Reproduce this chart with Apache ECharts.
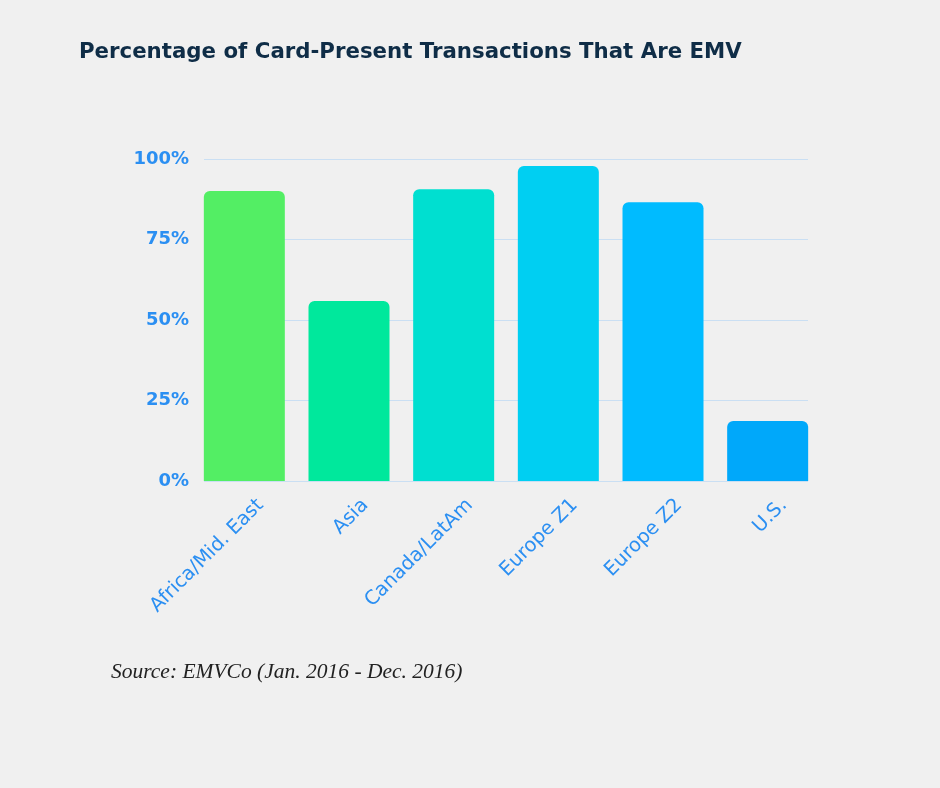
<!DOCTYPE html>
<html><head><meta charset="utf-8">
<script src="https://cdn.jsdelivr.net/npm/echarts@6/dist/echarts.min.js"></script>
<style>html,body{margin:0;padding:0;background:#f0f0f0}#c{width:940px;height:788px}</style>
</head><body><div id="c"></div>
<script>
const categories = ['Africa/Mid. East', 'Asia', 'Canada/LatAm', 'Europe Z1', 'Europe Z2', 'U.S.'];
const values = [90.1, 55.9, 90.6, 97.8, 86.6, 18.6];
const barColors = ['#53ee64', '#00e89c', '#00dfd0', '#00cff2', '#00bbff', '#00a8fa'];
const yTicks = [0, 25, 50, 75, 100];

const chart = echarts.init(document.getElementById('c'));
const labelBlue = '#2b8ff2';
chart.setOption({
  backgroundColor: '#f0f0f0',
  animation: false,
  title: {
    text: 'Percentage of Card-Present Transactions That Are EMV',
    left: 74, top: 37,
    textStyle: { color: '#0f2d47', fontSize: 21.3, fontWeight: 'bold', fontFamily: 'DejaVu Sans' }
  },
  grid: [
    { left: 204, right: 132, top: 159, bottom: 307 },
    { left: 192, right: 120, top: 159, bottom: 307 }
  ],
  xAxis: [
    { type: 'category', gridIndex: 0, data: categories, show: false },
    { type: 'category', gridIndex: 1, data: categories,
      axisLine: { show: false }, axisTick: { show: false },
      axisLabel: { rotate: 45, margin: 5, verticalAlign: 'top', lineHeight: 46, color: labelBlue, fontSize: 19.5, fontFamily: 'DejaVu Sans', interval: 0 } }
  ],
  yAxis: [
    { type: 'value', gridIndex: 0, min: yTicks[0], max: yTicks[yTicks.length-1], interval: 25,
      axisLine: { show: false }, axisTick: { show: false },
      axisLabel: { formatter: '{value}%', color: labelBlue, fontSize: 18, fontFamily: 'DejaVu Sans', fontWeight: 'bold', margin: 15 },
      splitLine: { lineStyle: { color: '#cadff3', width: 1 } } },
    { type: 'value', gridIndex: 1, min: 0, max: 100, show: false, splitLine: { show: false } }
  ],
  series: [{
    type: 'bar', xAxisIndex: 1, yAxisIndex: 1, barWidth: 81,
    data: values.map((v, i) => ({ value: v, itemStyle: { color: barColors[i] } })),
    itemStyle: { borderRadius: [6, 6, 0, 0] }
  }],
  graphic: [{
    type: 'text', left: 111, top: 661,
    style: { text: 'Source: EMVCo (Jan. 2016 - Dec. 2016)', fill: '#222', font: 'italic 21.5px "Liberation Serif", "DejaVu Serif", serif' }
  }]
});
</script></body></html>
